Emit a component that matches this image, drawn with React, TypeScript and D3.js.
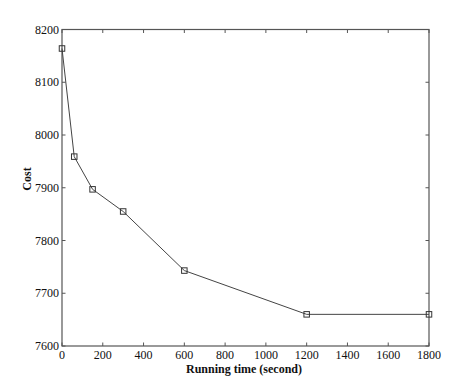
import React from "react";
import * as d3 from "d3";

const times = [0, 60, 150, 300, 600, 1200, 1800];
const costs = [8164, 7959, 7897, 7855, 7743, 7660, 7660];
const xTicks = [0, 200, 400, 600, 800, 1000, 1200, 1400, 1600, 1800];
const yTicks = [7600, 7700, 7800, 7900, 8000, 8100, 8200];

const W = 474, H = 389;
const M = { left: 62, right: 45, top: 29.5, bottom: 43 };

export default function App() {
  const x = d3.scaleLinear().domain([0, 1800]).range([M.left, W - M.right]);
  const y = d3.scaleLinear().domain([7600, 8200]).range([H - M.bottom, M.top]);
  const line = d3.line<number>().x((_, i) => x(times[i])).y((d) => y(d));
  const axisColor = "#555";
  const tl = 3.5;
  const font = "'Liberation Serif', 'Times New Roman', serif";
  const x0 = x(0), x1 = x(1800), y0 = y(7600), y1 = y(8200);
  return (
    <svg width={W} height={H} style={{ position: "absolute", left: 0, top: 0, background: "#fff" }} fontFamily={font}>
      <rect x={0} y={0} width={W} height={H} fill="#fff" />
      {xTicks.map((t) => (
        <g key={"x" + t}>
          <line x1={x(t)} x2={x(t)} y1={y0} y2={y0 - tl} stroke={axisColor} strokeWidth={1} />
          <line x1={x(t)} x2={x(t)} y1={y1} y2={y1 + tl} stroke={axisColor} strokeWidth={1} />
          <text x={x(t)} y={y0 + 12.5} textAnchor="middle" fontSize={12} fill="#111">{t}</text>
        </g>
      ))}
      {yTicks.map((t) => (
        <g key={"y" + t}>
          <line x1={x0} x2={x0 + tl} y1={y(t)} y2={y(t)} stroke={axisColor} strokeWidth={1} />
          <line x1={x1} x2={x1 - tl} y1={y(t)} y2={y(t)} stroke={axisColor} strokeWidth={1} />
          <text x={x0 - 3} y={y(t) + 4} textAnchor="end" fontSize={12} fill="#111">{t}</text>
        </g>
      ))}
      <rect x={x0} y={y1} width={x1 - x0} height={y0 - y1} fill="none" stroke={axisColor} strokeWidth={1.2} />
      <path d={line(costs) || ""} fill="none" stroke="#444" strokeWidth={1} />
      {costs.map((c, i) => (
        <rect key={i} x={x(times[i]) - 2.75} y={y(c) - 2.75} width={5.5} height={5.5} fill="none" stroke="#333" strokeWidth={1} />
      ))}
      <text x={244} y={372.5} textAnchor="middle" fontSize={12} fontWeight="bold" fill="#111">Running time (second)</text>
      <text transform={`translate(31,179) rotate(-90)`} textAnchor="middle" fontSize={12} fontWeight="bold" fill="#111">Cost</text>
    </svg>
  );
}
